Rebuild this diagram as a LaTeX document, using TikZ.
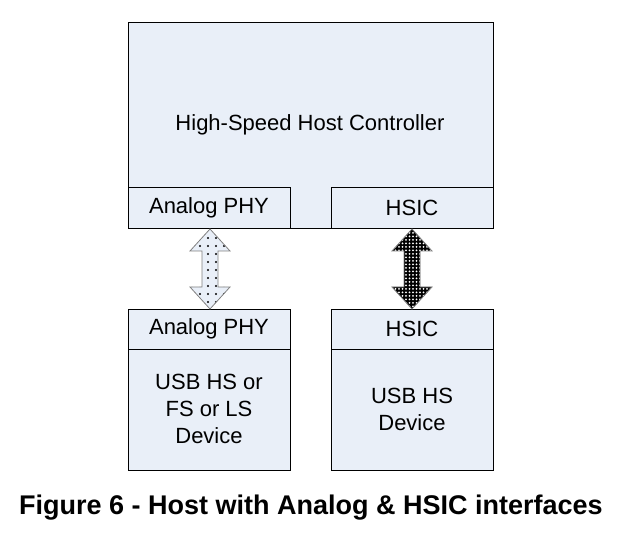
\documentclass[tikz,border=0pt]{standalone}
\usepackage{fontspec}
\setmainfont{Liberation Sans}
\usetikzlibrary{patterns.meta}
\definecolor{bx}{HTML}{E9EFF8}
\begin{document}
\begin{tikzpicture}[x=1pt,y=-1pt,
  box/.style={draw=black,fill=bx,line width=0.8pt},
  t/.style={font=\fontsize{22}{27}\selectfont,align=center}]
\useasboundingbox (0,0) rectangle (638,534);
\draw[box] (128,22) rectangle (493,228);
\draw[box] (128,187) rectangle (290,228);
\draw[box] (331,187) rectangle (493,228);
\node[t] (hc) at (310,125) {High-Speed Host Controller};
\node[t] (ap1) at (209,207.5) {Analog PHY};
\node[t] (hs1) at (412,207.5) {HSIC};
\draw[box] (128,309) rectangle (290,470);
\draw[box] (128,309) rectangle (290,349);
\draw[box] (331,309) rectangle (493,470);
\draw[box] (331,309) rectangle (493,349);
\node[t] (ap2) at (209,329) {Analog PHY};
\node[t] (hs2) at (412,329) {HSIC};
\node[t] (d1) at (209,409) {USB HS or\\FS or LS\\Device};
\node[t] (d2) at (412,409) {USB HS\\Device};
\def\arr#1{(#1-20,251) -- (#1,229) -- (#1+20,251) -- (#1+8,251) -- (#1+8,287) -- (#1+20,287) -- (#1,309) -- (#1-20,287) -- (#1-8,287) -- (#1-8,251) -- cycle}
\fill[bx] \arr{210};
\fill[pattern={Dots[distance=8pt,radius=1.1pt]},pattern color=black] \arr{210};
\draw[gray,line width=0.8pt] \arr{210};
\fill[black] \arr{412};
\fill[pattern={Dots[distance=3.5pt,radius=1pt]},pattern color=white] \arr{412};
\draw[gray,line width=0.8pt] \arr{412};
\node[font=\bfseries\fontsize{27}{32}\selectfont] (cap) at (311,508) {Figure 6 - Host with Analog \& HSIC interfaces};
\end{tikzpicture}
\end{document}
